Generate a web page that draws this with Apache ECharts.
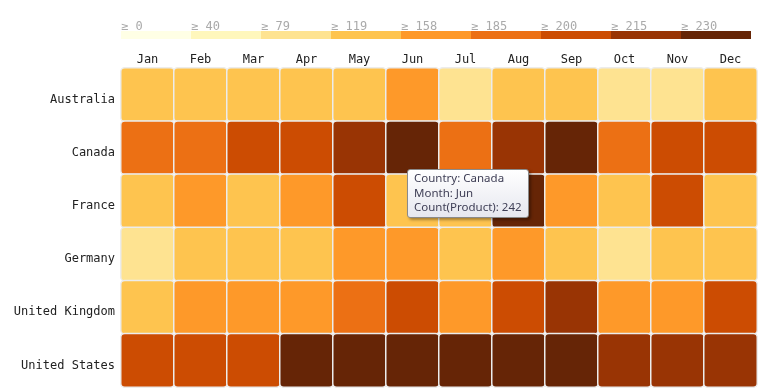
<!DOCTYPE html>
<html>
<head>
<meta charset="utf-8">
<script src="https://cdn.jsdelivr.net/npm/echarts@6/dist/echarts.min.js"></script>
<style>
html,body{margin:0;padding:0;background:#fff;}
#chart{width:765px;height:392px;}
</style>
</head>
<body>
<div id="chart"></div>
<script>
var months = ['Jan','Feb','Mar','Apr','May','Jun','Jul','Aug','Sep','Oct','Nov','Dec'];
var countries = ['Australia','Canada','France','Germany','United Kingdom','United States'];
var australia = [142, 138, 145, 136, 150, 168, 112, 147, 153, 105, 98, 144];
var canada    = [191, 188, 206, 204, 221, 242, 193, 224, 238, 190, 209, 203];
var france    = [139, 172, 148, 166, 210, 150, 146, 233, 175, 141, 205, 137];
var germany   = [108, 133, 129, 140, 164, 171, 146, 176, 143, 101, 152, 135];
var uk        = [149, 167, 174, 169, 196, 211, 163, 208, 218, 171, 160, 212];
var us        = [207, 203, 210, 240, 236, 245, 239, 234, 237, 226, 219, 228];
var thresholds = [0, 40, 79, 119, 158, 185, 200, 215, 230];
var colors = ['#ffffe5','#fff7bc','#fee391','#fec44f','#fe9929','#ec7014','#cc4c02','#993404','#662506'];

var rows = [australia, canada, france, germany, uk, us];
var data = [];
rows.forEach(function (r, yi) {
  r.forEach(function (v, xi) { data.push([xi, yi, v]); });
});

var pieces = thresholds.map(function (t, i) {
  var p = { gte: t, color: colors[i] };
  if (i < thresholds.length - 1) p.lt = thresholds[i + 1];
  return p;
});

var legendLeft = 121, legendW = 70;
var graphics = [];
thresholds.forEach(function (t, i) {
  graphics.push({
    type: 'rect', left: legendLeft + i * legendW, top: 31,
    shape: { width: legendW, height: 8 },
    style: { fill: colors[i] }, silent: true
  });
  graphics.push({
    type: 'text', left: legendLeft + i * legendW, top: 21,
    style: { text: '\u2265 ' + t, fill: '#aaaaaa', font: '12px "DejaVu Sans Mono"' },
    silent: true
  });
});

var chart = echarts.init(document.getElementById('chart'));
chart.setOption({
  animation: false,
  grid: { left: 121, right: 8, top: 68, bottom: 5 },
  xAxis: {
    type: 'category', data: months, position: 'top',
    axisLine: { show: false }, axisTick: { show: false }, splitArea: { show: false },
    axisLabel: { color: '#222', fontFamily: 'DejaVu Sans Mono', fontSize: 12, margin: 2 }
  },
  yAxis: {
    type: 'category', data: countries, inverse: true,
    axisLine: { show: false }, axisTick: { show: false },
    axisLabel: { color: '#222', fontFamily: 'DejaVu Sans Mono', fontSize: 12, margin: 6, verticalAlign: 'top', lineHeight: 10 }
  },
  visualMap: { type: 'piecewise', show: false, dimension: 2, pieces: pieces },
  tooltip: {
    trigger: 'item', triggerOn: 'none', alwaysShowContent: true,
    position: [407, 169], transitionDuration: 0,
    padding: [1, 6, 2, 6], borderColor: '#8a8a8a', borderWidth: 1,
    backgroundColor: '#fff',
    extraCssText: 'background: linear-gradient(#ffffff, #e6e7ef) !important; box-shadow: 2px 2px 3px rgba(0,0,0,0.35); border-radius: 3px;',
    textStyle: { fontFamily: 'Noto Sans', fontSize: 11.5, color: '#3e3e55' },
    formatter: function (p) {
      return '<div style="line-height:14.5px">Country: ' + countries[p.value[1]] +
        '<br/>Month: ' + months[p.value[0]] +
        '<br/>Count(Product): ' + p.value[2] + '</div>';
    }
  },
  graphic: graphics,
  series: [{
    type: 'heatmap', data: data,
    itemStyle: { borderColor: '#ececec', borderWidth: 1.5, borderRadius: 4 },
    emphasis: { disabled: true }
  }]
});
chart.dispatchAction({ type: 'showTip', seriesIndex: 0, dataIndex: 1 * 12 + 5 });
</script>
</body>
</html>
